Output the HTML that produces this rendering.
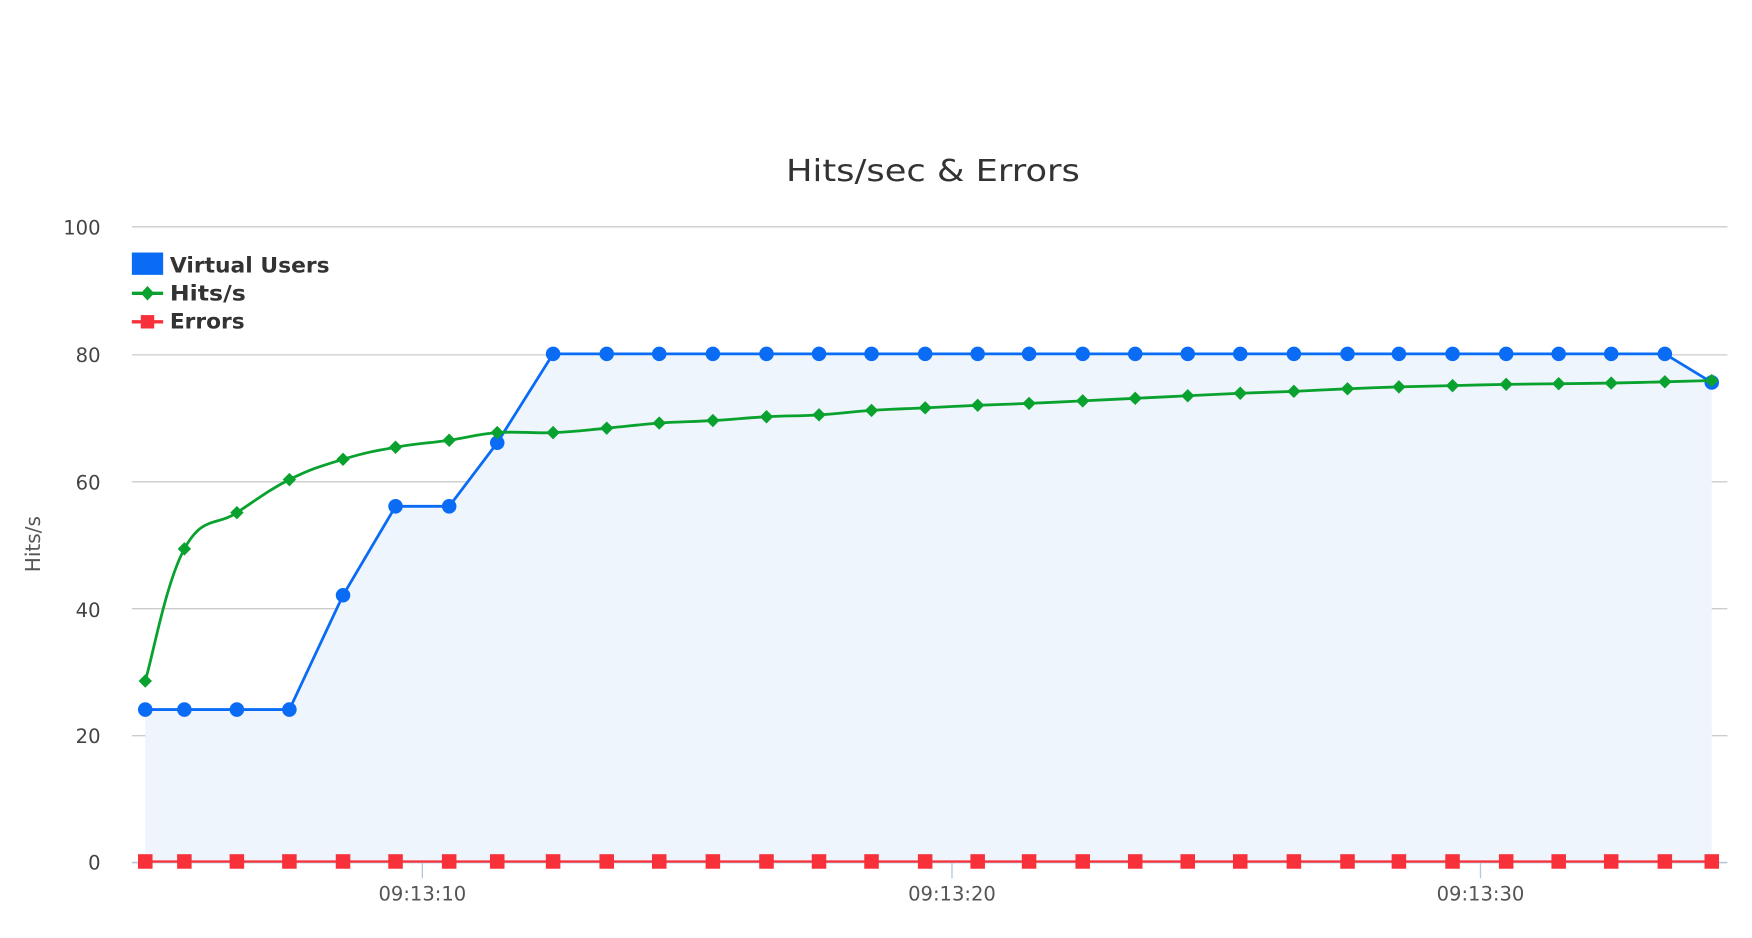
<!DOCTYPE html>
<html><head><meta charset="utf-8"><style>
html,body{margin:0;padding:0;background:#fff;}
svg{display:block;font-family:"DejaVu Sans","Liberation Sans",sans-serif;}
</style></head><body>
<svg id="s" width="1752" height="938" viewBox="0 0 1568 839.5" xmlns="http://www.w3.org/2000/svg">
<rect width="1568" height="839.5" fill="#fff"/>
<text x="835" y="162" text-anchor="middle" font-size="27" fill="#333" textLength="263" lengthAdjust="spacingAndGlyphs">Hits/sec &amp; Errors</text>
<g stroke="#cccccc" stroke-width="1.2">
<line x1="118" y1="203" x2="1546" y2="203"/>
<line x1="118" y1="317.6" x2="1546" y2="317.6"/>
<line x1="118" y1="431.2" x2="1546" y2="431.2"/>
<line x1="118" y1="544.8" x2="1546" y2="544.8"/>
<line x1="118" y1="658.4" x2="1546" y2="658.4"/>
</g>
<g id="fill"></g>
<line x1="118" y1="772" x2="1546" y2="772" stroke="#b8c8d8" stroke-width="1.5"/>
<g stroke="#b8c8d8" stroke-width="1.2">
<line x1="378" y1="772" x2="378" y2="786"/>
<line x1="852" y1="772" x2="852" y2="786"/>
<line x1="1325" y1="772" x2="1325" y2="786"/>
</g>
<g font-size="17.5" fill="#444" text-anchor="end">
<text x="90" y="210">100</text>
<text x="90" y="324">80</text>
<text x="90" y="438">60</text>
<text x="90" y="552">40</text>
<text x="90" y="665">20</text>
<text x="90" y="778">0</text>
</g>
<g font-size="17.5" fill="#555" text-anchor="middle">
<text x="378" y="806">09:13:10</text>
<text x="852" y="806">09:13:20</text>
<text x="1325" y="806">09:13:30</text>
</g>
<text x="0" y="0" font-size="18" fill="#555" text-anchor="middle" transform="translate(36,487) rotate(-90)">Hits/s</text>
<g id="series"></g>
<g font-size="19" font-weight="bold" fill="#333">
<rect x="118" y="226" width="28" height="20" fill="#0a6cf5"/>
<text x="152" y="244" textLength="143" lengthAdjust="spacingAndGlyphs">Virtual Users</text>
<line x1="118" y1="262.5" x2="146" y2="262.5" stroke="#0aa22e" stroke-width="3"/>
<path d="M132 256 L138 262.5 L132 269 L126 262.5Z" fill="#0aa22e"/>
<text x="152" y="269" textLength="68" lengthAdjust="spacingAndGlyphs">Hits/s</text>
<line x1="118" y1="288" x2="146" y2="288" stroke="#f7303a" stroke-width="3"/>
<rect x="126" y="282" width="12" height="12" fill="#f7303a"/>
<text x="152" y="294" textLength="67" lengthAdjust="spacingAndGlyphs">Errors</text>
</g>
</svg>
<script>
var xs=[130,165,212,259,307,354,402,445,495,543,590,638,686,733,780,828,875,921,969,1016,1063,1110,1158,1206,1252,1300,1348,1395,1442,1490,1532];
var vu=[24,24,24,24,42,56,56,66];while(vu.length<30)vu.push(80);vu.push(75.5);
var hits=[28.5,49.3,55,60.2,63.4,65.3,66.4,67.6,67.6,68.3,69.1,69.5,70.1,70.4,71.1,71.5,71.9,72.2,72.6,73,73.4,73.8,74.1,74.5,74.8,75,75.2,75.3,75.4,75.6,75.8];
function Y(v){return 771.5-5.685*v;}
var NS="http://www.w3.org/2000/svg";
function el(t,a,p){var e=document.createElementNS(NS,t);for(var k in a)e.setAttribute(k,a[k]);p.appendChild(e);return e;}
var s=document.getElementById('series'),f=document.getElementById('fill');
var d="M"+xs[0]+" 772";for(var i=0;i<31;i++)d+=" L"+xs[i]+" "+Y(vu[i]);d+=" L"+xs[30]+" 772Z";
el('path',{d:d,fill:'#eef5fd'},f);
el('line',{x1:xs[0],y1:771,x2:xs[30],y2:771,stroke:'#f7303a','stroke-width':2},s);
for(i=0;i<31;i++)el('rect',{x:xs[i]-6.5,y:764.5,width:13,height:13,fill:'#f7303a'},s);
var p="";for(i=0;i<31;i++)p+=(i?" L":"M")+xs[i]+" "+Y(vu[i]);
el('path',{d:p,fill:'none',stroke:'#0a6cf5','stroke-width':2.5},s);
for(i=0;i<31;i++)el('circle',{cx:xs[i],cy:Y(vu[i]),r:6.5,fill:'#0a6cf5'},s);
var P=xs.map(function(x,i){return [x,Y(hits[i])];});
var h="M"+P[0][0]+" "+P[0][1];
for(i=0;i<30;i++){var p0=P[Math.max(i-1,0)],p1=P[i],p2=P[i+1],p3=P[Math.min(i+2,30)];
var t=0.2;h+=" C"+(p1[0]+(p2[0]-p0[0])*t)+" "+(p1[1]+(p2[1]-p0[1])*t)+" "+(p2[0]-(p3[0]-p1[0])*t)+" "+(p2[1]-(p3[1]-p1[1])*t)+" "+p2[0]+" "+p2[1];}
el('path',{d:h,fill:'none',stroke:'#0aa22e','stroke-width':2.5},s);
for(i=0;i<31;i++){var x=P[i][0],y=P[i][1];el('path',{d:"M"+x+" "+(y-6)+" L"+(x+6)+" "+y+" L"+x+" "+(y+6)+" L"+(x-6)+" "+y+"Z",fill:'#0aa22e'},s);}
</script>
</body></html>
